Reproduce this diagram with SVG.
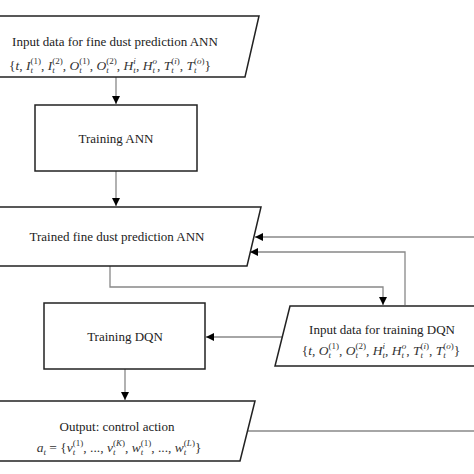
<svg xmlns="http://www.w3.org/2000/svg" width="474" height="474" viewBox="0 0 474 474">
<defs>
<marker id="ah" viewBox="0 0 10 10" refX="10" refY="5" markerWidth="8" markerHeight="8" markerUnits="userSpaceOnUse" orient="auto">
<path d="M0,0 L10,5 L0,10 z" fill="#000"/>
</marker>
<style>
.shape{fill:#fff;stroke:#222;stroke-width:1.5}
.lbl{font-family:"Liberation Serif","Times New Roman",serif;font-size:13px;fill:#222;text-anchor:middle}
.m{font-family:"Liberation Serif","Times New Roman",serif;font-size:13.5px;fill:#333;text-anchor:middle}
.i{font-style:italic}
.s{font-size:9px}
.conn{fill:none;stroke:#888;stroke-width:1.3}
</style>
</defs>
<rect width="474" height="474" fill="#fff"/>
<g id="connectors">
<path class="conn" d="M116,77 V104" marker-end="url(#ah)"/>
<path class="conn" d="M116,171 V206" marker-end="url(#ah)"/>
<path class="conn" d="M110,266 V287 H383 V305" marker-end="url(#ah)"/>
<path class="conn" d="M474,237 H255" marker-end="url(#ah)"/>
<path class="conn" d="M405,305 V252 H250" marker-end="url(#ah)"/>
<path class="conn" d="M282,337 H206" marker-end="url(#ah)"/>
<path class="conn" d="M125,369 V400" marker-end="url(#ah)"/>
<path class="conn" d="M248,431 H474"/>
</g>
<g id="input-ann">
<path class="shape" d="M-5,16 H259 L245,77 H-5 z"/>
<text class="lbl" x="115" y="46">Input data for fine dust prediction ANN</text>
<text class="m" x="110" y="70">{<tspan class="i">t</tspan>, <tspan class="i">I</tspan><tspan class="i s" dy="3">t</tspan><tspan class="s" dx="-2.5" dy="-9">(1)</tspan><tspan dy="6">, </tspan><tspan class="i">I</tspan><tspan class="i s" dy="3">t</tspan><tspan class="s" dx="-2.5" dy="-9">(2)</tspan><tspan dy="6">, </tspan><tspan class="i">O</tspan><tspan class="i s" dy="3">t</tspan><tspan class="s" dx="-2.5" dy="-9">(1)</tspan><tspan dy="6">, </tspan><tspan class="i">O</tspan><tspan class="i s" dy="3">t</tspan><tspan class="s" dx="-2.5" dy="-9">(2)</tspan><tspan dy="6">, </tspan><tspan class="i">H</tspan><tspan class="i s" dy="3">t</tspan><tspan class="i s" dx="-2.5" dy="-9">i</tspan><tspan dy="6">, </tspan><tspan class="i">H</tspan><tspan class="i s" dy="3">t</tspan><tspan class="i s" dx="-2.5" dy="-9">o</tspan><tspan dy="6">, </tspan><tspan class="i">T</tspan><tspan class="i s" dy="3">t</tspan><tspan class="s" dx="-2.5" dy="-9">(<tspan class="i">i</tspan>)</tspan><tspan dy="6">, </tspan><tspan class="i">T</tspan><tspan class="i s" dy="3">t</tspan><tspan class="s" dx="-2.5" dy="-9">(<tspan class="i">o</tspan>)</tspan><tspan dy="6">}</tspan></text>
</g>
<g id="training-ann">
<rect class="shape" x="35" y="105" width="162" height="66"/>
<text class="lbl" x="116" y="143">Training ANN</text>
</g>
<g id="trained-ann">
<path class="shape" d="M-5,207 H261 L247,266 H-5 z"/>
<text class="lbl" x="117" y="241">Trained fine dust prediction ANN</text>
</g>
<g id="input-dqn">
<path class="shape" d="M290,306 H480 V366 H275 z"/>
<text class="lbl" x="382" y="334">Input data for training DQN</text>
<text class="m" x="381" y="355">{<tspan class="i">t</tspan>, <tspan class="i">O</tspan><tspan class="i s" dy="3">t</tspan><tspan class="s" dx="-2.5" dy="-9">(1)</tspan><tspan dy="6">, </tspan><tspan class="i">O</tspan><tspan class="i s" dy="3">t</tspan><tspan class="s" dx="-2.5" dy="-9">(2)</tspan><tspan dy="6">, </tspan><tspan class="i">H</tspan><tspan class="i s" dy="3">t</tspan><tspan class="i s" dx="-2.5" dy="-9">i</tspan><tspan dy="6">, </tspan><tspan class="i">H</tspan><tspan class="i s" dy="3">t</tspan><tspan class="i s" dx="-2.5" dy="-9">o</tspan><tspan dy="6">, </tspan><tspan class="i">T</tspan><tspan class="i s" dy="3">t</tspan><tspan class="s" dx="-2.5" dy="-9">(<tspan class="i">i</tspan>)</tspan><tspan dy="6">, </tspan><tspan class="i">T</tspan><tspan class="i s" dy="3">t</tspan><tspan class="s" dx="-2.5" dy="-9">(<tspan class="i">o</tspan>)</tspan><tspan dy="6">}</tspan></text>
</g>
<g id="training-dqn">
<rect class="shape" x="44" y="303" width="161" height="66"/>
<text class="lbl" x="125" y="341">Training DQN</text>
</g>
<g id="output">
<path class="shape" d="M-5,401 H255 L240,461 H-5 z"/>
<text class="lbl" x="117" y="431">Output: control action</text>
<text class="m" x="119" y="452"><tspan class="i">a</tspan><tspan class="i s" dy="3">t</tspan><tspan dy="-3"> = {</tspan><tspan class="i">v</tspan><tspan class="i s" dy="3">t</tspan><tspan class="s" dx="-2.5" dy="-9">(1)</tspan><tspan dy="6">, ..., </tspan><tspan class="i">v</tspan><tspan class="i s" dy="3">t</tspan><tspan class="s" dx="-2.5" dy="-9">(<tspan class="i">K</tspan>)</tspan><tspan dy="6">, </tspan><tspan class="i">w</tspan><tspan class="i s" dy="3">t</tspan><tspan class="s" dx="-2.5" dy="-9">(1)</tspan><tspan dy="6">, ..., </tspan><tspan class="i">w</tspan><tspan class="i s" dy="3">t</tspan><tspan class="s" dx="-2.5" dy="-9">(<tspan class="i">L</tspan>)</tspan><tspan dy="6">}</tspan></text>
</g>
</svg>
